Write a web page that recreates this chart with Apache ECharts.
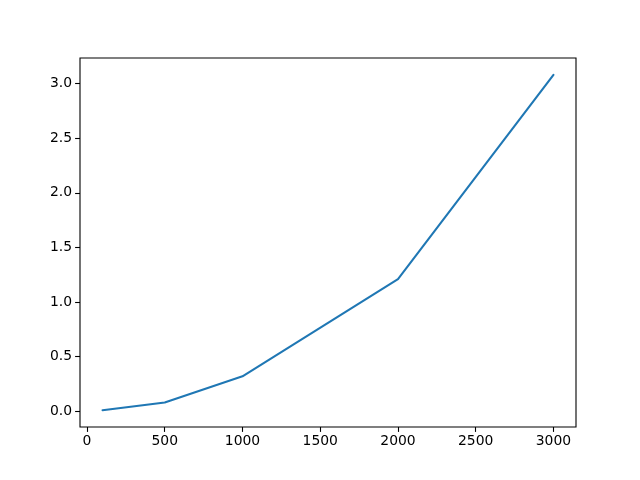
<!DOCTYPE html>
<html>
<head>
<meta charset="utf-8">
<script src="https://cdn.jsdelivr.net/npm/echarts@6/dist/echarts.min.js"></script>
<style>html,body{margin:0;padding:0;background:#fff}#c{width:640px;height:480px}</style>
</head>
<body>
<div id="c"></div>
<script>
const xValues = [100, 500, 1000, 2000, 3000];
const yValues = [0.01, 0.08, 0.32, 1.21, 3.08];
const xTicks = [0, 500, 1000, 1500, 2000, 2500, 3000];
const yTicks = [0, 0.5, 1.0, 1.5, 2.0, 2.5, 3.0];

function pad(lo, hi) { const m = (hi - lo) * 0.05; return [lo - m, hi + m]; }
const xr = pad(Math.min(...xValues), Math.max(...xValues));
const yr = pad(Math.min(...yValues), Math.max(...yValues));

const font = 'DejaVu Sans';
const chart = echarts.init(document.getElementById('c'), null, {renderer: 'canvas'});
chart.setOption({
  animation: false,
  backgroundColor: '#fff',
  grid: {left: 80, right: 64, top: 58, bottom: 53, show: true, borderColor: '#000', borderWidth: 1.1, backgroundColor: 'transparent'},
  xAxis: {
    type: 'value', min: xr[0], max: xr[1],
    splitLine: {show: false},
    axisLine: {show: false, onZero: false},
    axisTick: {show: true, length: 4.9, inside: false, customValues: xTicks, lineStyle: {color: '#000', width: 1.1}},
    axisLabel: {customValues: xTicks, color: '#000', fontFamily: font, fontSize: 13.9, margin: 7, formatter: v => String(v)}
  },
  yAxis: {
    type: 'value', min: yr[0], max: yr[1],
    splitLine: {show: false},
    axisLine: {show: false, onZero: false},
    axisTick: {show: true, length: 4.9, inside: false, customValues: yTicks, lineStyle: {color: '#000', width: 1.1}},
    axisLabel: {customValues: yTicks, color: '#000', fontFamily: font, fontSize: 13.9, margin: 8, formatter: v => v.toFixed(1)}
  },
  series: [{
    type: 'line',
    data: xValues.map((x, i) => [x, yValues[i]]),
    showSymbol: false,
    lineStyle: {color: '#1f77b4', width: 2.08, cap: 'round', join: 'round'},
    itemStyle: {color: '#1f77b4'}
  }]
});
</script>
</body>
</html>
